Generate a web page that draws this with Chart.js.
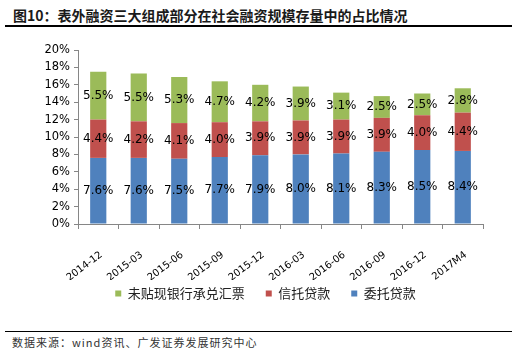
<!DOCTYPE html>
<html>
<head>
<meta charset="utf-8">
<script src="https://cdn.jsdelivr.net/npm/chart.js@4"></script>
<style>
  html, body { margin: 0; padding: 0; background: #fff; }
  body { width: 519px; height: 354px; position: relative; overflow: hidden; font-family: "Noto Sans CJK SC", sans-serif; }
  #title { position: absolute; left: 13px; top: 5px; font-size: 14px; font-weight: bold; color: #1a1a1a; line-height: 20px; white-space: nowrap; }
  .rule { position: absolute; left: 5px; width: 507px; background: #000; }
  #source { position: absolute; left: 12px; top: 334px; font-size: 11px; color: #333; letter-spacing: 1px; line-height: 16px; white-space: nowrap; }
  #wrap { position: absolute; left: 0; top: 30px; width: 519px; height: 294px; }
</style>
</head>
<body>
<div id="title">图10：表外融资三大组成部分在社会融资规模存量中的占比情况</div>
<div class="rule" style="top:25px;height:2px;"></div>
<div id="wrap"><canvas id="shareChart"></canvas></div>
<div class="rule" style="top:331px;height:1px;"></div>
<div id="source">数据来源：wind资讯、广发证券发展研究中心</div>

<script>
// categories and series (% of total social financing stock)
const periods = ['2014-12', '2015-03', '2015-06', '2015-09', '2015-12', '2016-03', '2016-06', '2016-09', '2016-12', '2017M4'];
const entrustedLoans = [7.6, 7.6, 7.5, 7.7, 7.9, 8.0, 8.1, 8.3, 8.5, 8.4];
const trustLoans = [4.4, 4.2, 4.1, 4.0, 3.9, 3.9, 3.9, 3.9, 4.0, 4.4];
const undiscountedBills = [5.5, 5.5, 5.3, 4.7, 4.2, 3.9, 3.1, 2.5, 2.5, 2.8];
const yTicks = [0, 2, 4, 6, 8, 10, 12, 14, 16, 18, 20];

// draws the value in the middle of each bar segment
const segmentLabels = {
    id: 'segmentLabels',
    afterDatasetsDraw(chart) {
        const ctx = chart.ctx;
        ctx.save();
        ctx.font = '12px "DejaVu Sans"';
        ctx.fillStyle = '#000';
        ctx.textAlign = 'center';
        ctx.textBaseline = 'middle';
        chart.data.datasets.forEach((ds, i) => {
            chart.getDatasetMeta(i).data.forEach((bar, j) => {
                const y = (bar.y + bar.base) / 2;
                ctx.fillText(ds.data[j].toFixed(1) + '%', bar.x, y);
            });
        });
        ctx.restore();
    }
};

// nudges the legend box: a bit right (centred under the plot like the original) and up
const legendShift = {
    id: 'legendShift',
    afterLayout(chart) {
        const lg = chart.legend;
        lg.left += 24;
        lg.right += 24;
        lg.top -= 14;
        lg.bottom -= 14;
    }
};

document.addEventListener('DOMContentLoaded', function () {
    const ctx = document.getElementById('shareChart').getContext('2d');

    new Chart(ctx, {
        type: 'bar',
        data: {
            labels: periods,
            datasets: [{
                label: '委托贷款',
                data: entrustedLoans,
                backgroundColor: '#4F81BD'
            }, {
                label: '信托贷款',
                data: trustLoans,
                backgroundColor: '#C0504D'
            }, {
                label: '未贴现银行承兑汇票',
                data: undiscountedBills,
                backgroundColor: '#9BBB59'
            }]
        },
        options: {
            responsive: true,
            maintainAspectRatio: false,
            animation: false,
            datasets: {
                bar: { barPercentage: 0.4, categoryPercentage: 1 }
            },
            layout: { padding: { top: 20, right: 36, left: 0, bottom: 0 } },
            scales: {
                x: {
                    stacked: true,
                    offset: true,
                    grid: { display: true, drawOnChartArea: false, drawTicks: true, tickLength: 5, color: '#868686', offset: true },
                    border: { color: '#868686' },
                    ticks: {
                        color: '#000',
                        font: { family: 'DejaVu Sans', size: 10 },
                        minRotation: 37,
                        maxRotation: 37,
                        autoSkip: false,
                        padding: 20,
                        labelOffset: 3
                    },
                    afterFit: function (scale) { scale.height = 56; }
                },
                y: {
                    stacked: true,
                    min: 0,
                    max: 20,
                    afterBuildTicks: function (scale) {
                        scale.ticks = yTicks.map(v => ({ value: v }));
                    },
                    grid: { display: true, drawOnChartArea: false, drawTicks: true, tickLength: 4, color: '#868686' },
                    border: { color: '#868686' },
                    ticks: {
                        color: '#000',
                        font: { family: 'DejaVu Sans', size: 11.5 },
                        padding: 4,
                        callback: function (value) { return value + '%'; }
                    },
                    afterFit: function (scale) { scale.width = 78; }
                }
            },
            plugins: {
                legend: {
                    position: 'bottom',
                    reverse: true,
                    labels: {
                        color: '#222',
                        font: { family: 'Noto Sans CJK SC', size: 13 },
                        boxWidth: 6,
                        boxHeight: 6,
                        padding: 21
                    }
                },
                tooltip: { enabled: false }
            }
        },
        plugins: [segmentLabels, legendShift]
    });
});
</script>
</body>
</html>
